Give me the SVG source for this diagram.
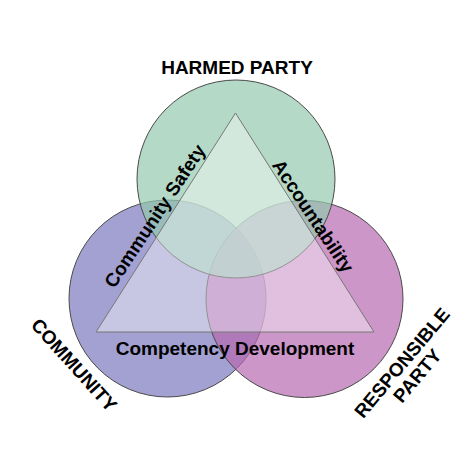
<svg xmlns="http://www.w3.org/2000/svg" width="474" height="474" viewBox="0 0 474 474">
<style>
.c{stroke:#4a4a4a;stroke-width:1;fill-opacity:0.7}
.t{font-family:"Liberation Sans",Arial,sans-serif;font-weight:bold;font-size:19px;fill:#000;text-anchor:middle}
</style>
<rect width="474" height="474" fill="#fff"/>
<g id="community-circle"><circle class="c" cx="167.5" cy="298.5" r="98.5" fill="#7a79bd"/></g>
<g id="responsible-circle"><circle class="c" cx="304.5" cy="299" r="98.5" fill="#b669b0"/></g>
<g id="harmed-circle"><circle class="c" cx="236" cy="179" r="99" fill="#94c9af"/></g>
<g id="triangle"><polygon points="235.5,113 96,332 374,332" fill="#ffffff" fill-opacity="0.4" stroke="#777" stroke-width="1"/></g>
<g id="labels">
<text class="t" x="237" y="73.5">HARMED PARTY</text>
<text class="t" x="235" y="354.5" font-size="19.5">Competency Development</text>
<text class="t" transform="translate(160.4,219.6) rotate(-56.5)">Community Safety</text>
<text class="t" transform="translate(307.6,219.6) rotate(56.5)">Accountability</text>
<text class="t" transform="translate(69.2,369.3) rotate(48)">COMMUNITY</text>
<g transform="translate(407,367) rotate(-50)">
<text class="t" x="0" y="0">RESPONSIBLE</text>
<text class="t" x="0" y="20">PARTY</text>
</g>
</g>
</svg>
